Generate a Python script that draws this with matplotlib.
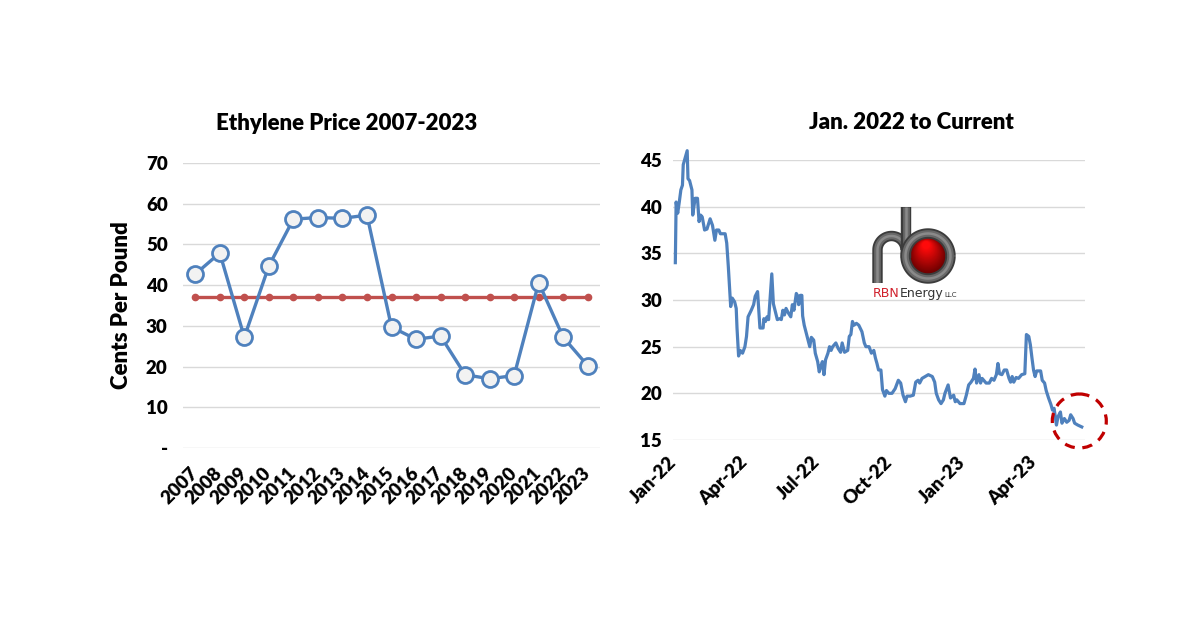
import numpy as np
import pandas as pd
import matplotlib
matplotlib.use("Agg")
import matplotlib.pyplot as plt
import matplotlib.dates as mdates
from matplotlib.patches import Circle
from matplotlib.ticker import FuncFormatter

# ── Data ──────────────────────────────────────
years = [str(y) for y in range(2007, 2024)]
annual_price = [42.7, 47.9, 27.2, 44.7, 56.2, 56.6, 56.4, 57.2, 29.7,
                26.7, 27.5, 18.0, 17.0, 17.8, 40.6, 27.2, 20.2]
avg_price = [37.0] * len(years)

daily_dates = [
    "2022-01-03", "2022-01-04", "2022-01-06", "2022-01-08", "2022-01-10", "2022-01-12",
    "2022-01-13", "2022-01-16", "2022-01-18", "2022-01-19", "2022-01-21", "2022-01-24",
    "2022-01-25", "2022-01-28", "2022-01-31", "2022-02-02", "2022-02-04", "2022-02-06",
    "2022-02-09", "2022-02-12", "2022-02-16", "2022-02-19", "2022-02-22", "2022-02-24",
    "2022-02-27", "2022-03-01", "2022-03-07", "2022-03-09", "2022-03-11", "2022-03-14",
    "2022-03-16", "2022-03-19", "2022-03-21", "2022-03-22", "2022-03-24", "2022-03-26",
    "2022-03-29", "2022-04-01", "2022-04-03", "2022-04-05", "2022-04-09", "2022-04-12",
    "2022-04-14", "2022-04-17", "2022-04-20", "2022-04-24", "2022-04-25", "2022-04-27",
    "2022-04-29", "2022-05-01", "2022-05-05", "2022-05-07", "2022-05-10", "2022-05-12",
    "2022-05-15", "2022-05-17", "2022-05-19", "2022-05-21", "2022-05-23", "2022-05-26",
    "2022-05-29", "2022-05-31", "2022-06-02", "2022-06-05", "2022-06-07", "2022-06-08",
    "2022-06-10", "2022-06-12", "2022-06-13", "2022-06-15", "2022-06-18", "2022-06-22",
    "2022-06-24", "2022-06-27", "2022-06-29", "2022-07-02", "2022-07-04", "2022-07-06",
    "2022-07-08", "2022-07-10", "2022-07-12", "2022-07-15", "2022-07-17", "2022-07-19",
    "2022-07-21", "2022-07-25", "2022-07-28", "2022-07-31", "2022-08-02", "2022-08-05",
    "2022-08-09", "2022-08-11", "2022-08-13", "2022-08-15", "2022-08-17", "2022-08-20",
    "2022-08-23", "2022-08-27", "2022-08-30", "2022-09-01", "2022-09-05", "2022-09-08",
    "2022-09-11", "2022-09-13", "2022-09-15", "2022-09-17", "2022-09-20", "2022-09-22",
    "2022-09-25", "2022-09-27", "2022-09-30", "2022-10-04", "2022-10-08", "2022-10-12",
    "2022-10-15", "2022-10-18", "2022-10-21", "2022-10-23", "2022-10-27", "2022-10-31",
    "2022-11-03", "2022-11-06", "2022-11-08", "2022-11-11", "2022-11-15", "2022-11-19",
    "2022-11-24", "2022-11-27", "2022-11-29", "2022-12-02", "2022-12-05", "2022-12-08",
    "2022-12-10", "2022-12-14", "2022-12-17", "2022-12-21", "2022-12-23", "2022-12-25",
    "2022-12-29", "2023-01-03", "2023-01-06", "2023-01-09", "2023-01-12", "2023-01-15",
    "2023-01-17", "2023-01-19", "2023-01-22", "2023-01-24", "2023-01-26", "2023-01-31",
    "2023-02-04", "2023-02-07", "2023-02-10", "2023-02-13", "2023-02-15", "2023-02-17",
    "2023-02-20", "2023-02-23", "2023-02-26", "2023-03-01", "2023-03-03", "2023-03-05",
    "2023-03-07", "2023-03-10", "2023-03-13", "2023-03-17", "2023-03-21", "2023-03-23",
    "2023-03-26", "2023-03-28", "2023-03-30", "2023-04-01", "2023-04-03", "2023-04-05",
    "2023-04-10", "2023-04-12", "2023-04-15", "2023-04-17", "2023-04-20", "2023-04-23",
    "2023-04-25", "2023-04-27", "2023-04-30", "2023-05-02", "2023-05-05", "2023-05-07",
    "2023-05-10", "2023-05-13", "2023-05-16", "2023-05-18", "2023-05-21", "2023-05-23",
    "2023-05-27", "2023-06-01",
]
daily_price = [
    34.0, 40.5, 39.3, 40.5, 41.8, 42.3, 44.5, 45.4, 46.0, 43.0, 42.8, 41.8,
    39.1, 40.9, 40.9, 38.4, 39.1, 38.9, 37.5, 37.6, 38.7, 38.0, 36.4, 37.5,
    37.5, 37.1, 37.1, 36.1, 33.6, 29.3, 30.2, 29.8, 29.1, 27.0, 24.0, 24.6,
    24.3, 25.0, 26.1, 28.2, 28.9, 29.5, 30.4, 30.9, 27.0, 27.0, 28.0, 27.7,
    28.2, 27.9, 32.8, 29.6, 28.6, 27.9, 28.0, 27.9, 28.9, 28.4, 29.1, 28.6,
    28.2, 29.5, 28.9, 30.7, 30.4, 29.5, 30.5, 30.5, 28.3, 27.3, 26.3, 25.0,
    26.0, 25.7, 24.3, 23.4, 22.3, 22.9, 23.4, 22.0, 23.6, 24.3, 25.0, 24.6,
    25.0, 25.4, 24.8, 24.4, 25.4, 24.4, 24.6, 26.1, 26.3, 27.7, 27.3, 27.5,
    27.3, 26.6, 25.4, 25.0, 25.0, 24.3, 24.6, 23.8, 23.2, 22.5, 22.5, 20.4,
    19.7, 20.3, 20.0, 20.0, 20.5, 21.4, 21.1, 19.8, 19.1, 19.7, 19.7, 19.8,
    21.2, 21.4, 21.1, 21.6, 21.8, 22.0, 21.8, 21.2, 20.0, 19.3, 18.9, 19.3,
    20.0, 20.9, 19.5, 19.8, 19.1, 19.3, 18.9, 18.9, 19.8, 20.9, 21.2, 21.6,
    22.6, 21.1, 22.0, 21.1, 21.6, 21.1, 21.1, 21.6, 21.4, 22.0, 23.2, 22.1,
    22.0, 22.5, 22.5, 21.6, 21.2, 21.8, 21.2, 21.7, 21.6, 22.0, 22.1, 26.3,
    26.1, 25.2, 23.8, 22.5, 21.8, 22.4, 22.4, 21.4, 21.1, 20.3, 19.5, 18.8,
    18.2, 18.4, 16.6, 17.5, 18.0, 16.8, 17.3, 16.9, 17.1, 17.7, 17.3, 16.8,
    16.6, 16.4,
]

BLUE = "#4F81BD"
RED = "#C0504D"
GRID = "#D9D9D9"
FONT = ["Lato", "DejaVu Sans"]
WEIGHT = "heavy"

plt.rcParams["font.family"] = FONT
plt.rcParams["font.weight"] = WEIGHT

fig = plt.figure(figsize=(12, 6.3), dpi=100)
fig.patch.set_facecolor("white")


def style_axes(ax):
    for s in ax.spines.values():
        s.set_visible(False)
    ax.grid(axis="y", color=GRID, linewidth=1)
    ax.set_axisbelow(True)
    ax.tick_params(length=0, labelsize=13.5)
    for lab in ax.get_xticklabels() + ax.get_yticklabels():
        lab.set_fontweight(WEIGHT)


def rotate_labels(ax):
    for lab in ax.get_xticklabels():
        lab.set_rotation(45)
        lab.set_ha("right")
        lab.set_va("center")
        lab.set_rotation_mode("anchor")


# ── Left: annual price ────────────────────────
ax1 = fig.add_axes([0.1525, 0.2889, 0.3475, 0.4524])
x = np.arange(len(years))
ax1.plot(x, avg_price, color=RED, linewidth=2.4, marker="o",
         markersize=4.5, zorder=2)
ax1.plot(x, annual_price, color=BLUE, linewidth=2.4, marker="o",
         markersize=11.5, markerfacecolor="#F2F2F2", markeredgecolor=BLUE,
         markeredgewidth=2, zorder=3)
ax1.set_xlim(-0.5, len(years) - 0.5)
ax1.set_ylim(0, 70)
ax1.set_yticks(range(0, 71, 10))
ax1.yaxis.set_major_formatter(FuncFormatter(lambda v, p: "-" if v == 0 else f"{v:.0f}"))
ax1.set_xticks(x)
ax1.set_xticklabels(years)
style_axes(ax1)
ax1.tick_params(axis="y", pad=11)
ax1.tick_params(axis="x", pad=16)
rotate_labels(ax1)
ax1.set_title("Ethylene Price 2007-2023", fontsize=16, fontweight=WEIGHT,
              pad=24, x=0.393)
ax1.set_ylabel("Cents Per Pound", fontsize=16, fontweight=WEIGHT, labelpad=10)

# ── Right: daily price since Jan 2022 ─────────
ax2 = fig.add_axes([0.5608, 0.3016, 0.3433, 0.4444])
dates = pd.to_datetime(daily_dates)
ax2.plot(dates, daily_price, color=BLUE, linewidth=2.3, clip_on=False,
         solid_joinstyle="round")
ax2.set_xlim(pd.Timestamp("2021-12-31"), pd.Timestamp("2023-06-05"))
ax2.set_ylim(15, 45)
ax2.set_yticks(range(15, 46, 5))
ax2.xaxis.set_major_locator(mdates.MonthLocator(bymonth=[1, 4, 7, 10]))
ax2.xaxis.set_major_formatter(mdates.DateFormatter("%b-%y"))
style_axes(ax2)
ax2.tick_params(axis="y", pad=8)
ax2.tick_params(axis="x", pad=14)
rotate_labels(ax2)
ax2.set_title("Jan. 2022 to Current", fontsize=16, fontweight=WEIGHT,
              pad=22, x=0.58)

# ── Overlay: logo + highlight circle (pixel coords) ──
ov = fig.add_axes([0, 0, 1, 1], zorder=5)
ov.set_xlim(0, 1200)
ov.set_ylim(630, 0)
ov.axis("off")


def tube(xs, ys):
    ov.plot(xs, ys, color="#3C3C3C", linewidth=7.5, solid_capstyle="butt")
    ov.plot(xs, ys, color="#686868", linewidth=4.8, solid_capstyle="butt")
    ov.plot(xs, ys, color="#8A8A8A", linewidth=1.8, solid_capstyle="butt")


# 'r' leg and arch
t = np.linspace(np.pi, 0, 40)
rx = np.concatenate([[877.5, 877.5], 891.5 + 14 * np.cos(t)])
ry = np.concatenate([[283, 250], 250 - 14 * np.sin(t)])
tube(rx, ry)
# red sphere with a simple radial shade
n = 30
for i in range(n):
    f = i / (n - 1)
    r = 19 * (1 - 0.8 * f)
    cx = 928 - 2 * f
    cy = 256 - 11 * f
    col = (0.40 + 0.60 * f, 0.0 + 0.04 * f, 0.0 + 0.04 * f)
    ov.add_patch(Circle((cx, cy), r, color=col, linewidth=0))
# 'b' stem and bowl
tube([905.5, 905.5], [207, 258])
a = np.linspace(0, 2 * np.pi, 120)
tube(928 + 22.5 * np.cos(a), 256 + 22.5 * np.sin(a))
ov.text(873, 297, "RBN", color="#D01F2A", fontsize=9, fontweight="normal",
        family=["DejaVu Sans"], va="baseline")
ov.text(899.5, 297, "Energy", color="#333333", fontsize=9, fontweight="normal",
        family=["DejaVu Sans"], va="baseline")
ov.text(944, 297, "LLC", color="#333333", fontsize=5, fontweight="normal",
        family=["DejaVu Sans"], va="baseline")

ov.add_patch(Circle((1079.3, 421), 27, fill=False, edgecolor="#C00000",
                    linewidth=2.3, linestyle=(0, (3.2, 2.4))))

plt.savefig("out.png", dpi=100)
